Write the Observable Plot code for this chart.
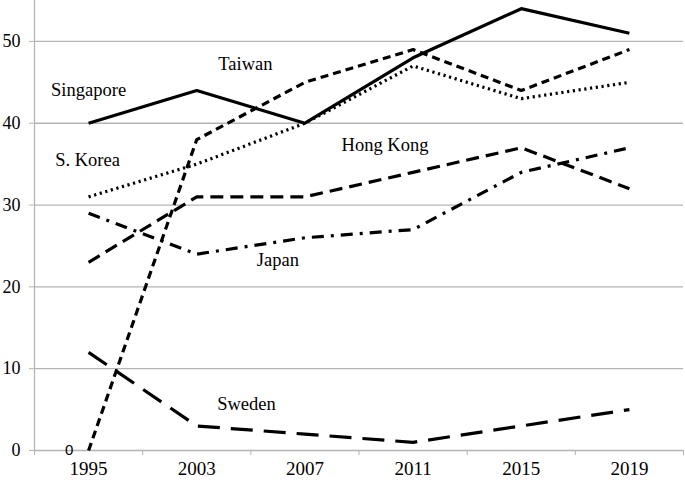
<!DOCTYPE html>
<html>
<head>
<meta charset="utf-8">
<script src="https://cdn.jsdelivr.net/npm/d3@7"></script>
<script src="https://cdn.jsdelivr.net/npm/@observablehq/plot@0.6"></script>
<style>
  html, body { margin: 0; padding: 0; background: #fff; }
  #chart svg { display: block; }
</style>
</head>
<body>
<div id="chart"></div>
<script>
const years = ["1995", "2003", "2007", "2011", "2015", "2019"];
const singapore = [40, 44, 40, 48, 54, 51];
const taiwan = [0, 38, 45, 49, 44, 49];
const sKorea = [31, 35, 40, 47, 43, 45];
const hongKong = [23, 31, 31, 34, 37, 32];
const japan = [29, 24, 26, 27, 34, 37];
const sweden = [12, 3, 2, 1, 3, 5];
const yTicks = [0, 10, 20, 30, 40, 50];

// Series labels (position in category-index units, value units)
const labelNames = ["Singapore", "Taiwan", "S. Korea", "Hong Kong", "Japan", "Sweden"];
const labelX = [0, 1.45, -0.01, 2.74, 1.75, 1.46];
const labelY = [44.1, 47.2, 35.5, 37.3, 23.3, 5.7];

const series = [
  {name: "Singapore", values: singapore, dash: null},
  {name: "Taiwan", values: taiwan, dash: "8,5"},
  {name: "S. Korea", values: sKorea, dash: "2.2,3.6"},
  {name: "Hong Kong", values: hongKong, dash: "13,7"},
  {name: "Japan", values: japan, dash: "12,7,3,7"},
  {name: "Sweden", values: sweden, dash: "22,11"}
];
const rows = s => s.values.map((v, i) => ({i, v}));
const labels = labelNames.map((n, k) => ({n, x: labelX[k], y: labelY[k]}));
const idx = years.map((_, i) => i);
const bounds = d3.range(-0.5, years.length, 1);

const serif = "'Liberation Serif', 'Times New Roman', serif";

const chart = Plot.plot({
  width: 685,
  height: 483,
  marginLeft: 34,
  marginRight: 2,
  marginTop: 0,
  marginBottom: 33,
  style: {fontFamily: serif, fontSize: "18px", color: "black", background: "white"},
  x: {type: "linear", domain: [-0.5, years.length - 0.5]},
  y: {domain: [0, 55]},
  marks: [
    Plot.gridY([10, 20, 30, 40, 50], {stroke: "#b4b4b4", strokeOpacity: 1, strokeWidth: 1.3}),
    Plot.ruleY([0], {stroke: "#b4b4b4", strokeWidth: 1.3}),
    Plot.ruleX([-0.5], {stroke: "#b4b4b4", strokeWidth: 1.3}),
    Plot.axisY(yTicks, {tickSize: 5, tickPadding: 9, stroke: "#b4b4b4", fill: "black", fontSize: 18, fontFamily: serif, label: null}),
    Plot.axisX(bounds, {tickSize: 5, stroke: "#b4b4b4", tickFormat: () => "", label: null}),
    Plot.axisX(idx, {tickSize: 0, tickPadding: 11, tickFormat: i => years[i], fill: "black", fontSize: 19, fontFamily: serif, label: null}),
    ...series.map(s => Plot.line(rows(s), {
      x: "i", y: "v", stroke: "black", strokeWidth: 3.2,
      strokeDasharray: s.dash, strokeLinecap: "butt", strokeLinejoin: "miter"
    })),
    Plot.text(labels, {x: "x", y: "y", text: "n", fill: "black", fontSize: 18.5, fontFamily: serif}),
    Plot.text([taiwan[0]], {x: -0.18, y: d => d, text: d => String(d), fill: "black",
      fontSize: 15, fontFamily: "'Liberation Sans', Arial, sans-serif"})
  ]
});
document.getElementById("chart").appendChild(chart);
</script>
</body>
</html>
